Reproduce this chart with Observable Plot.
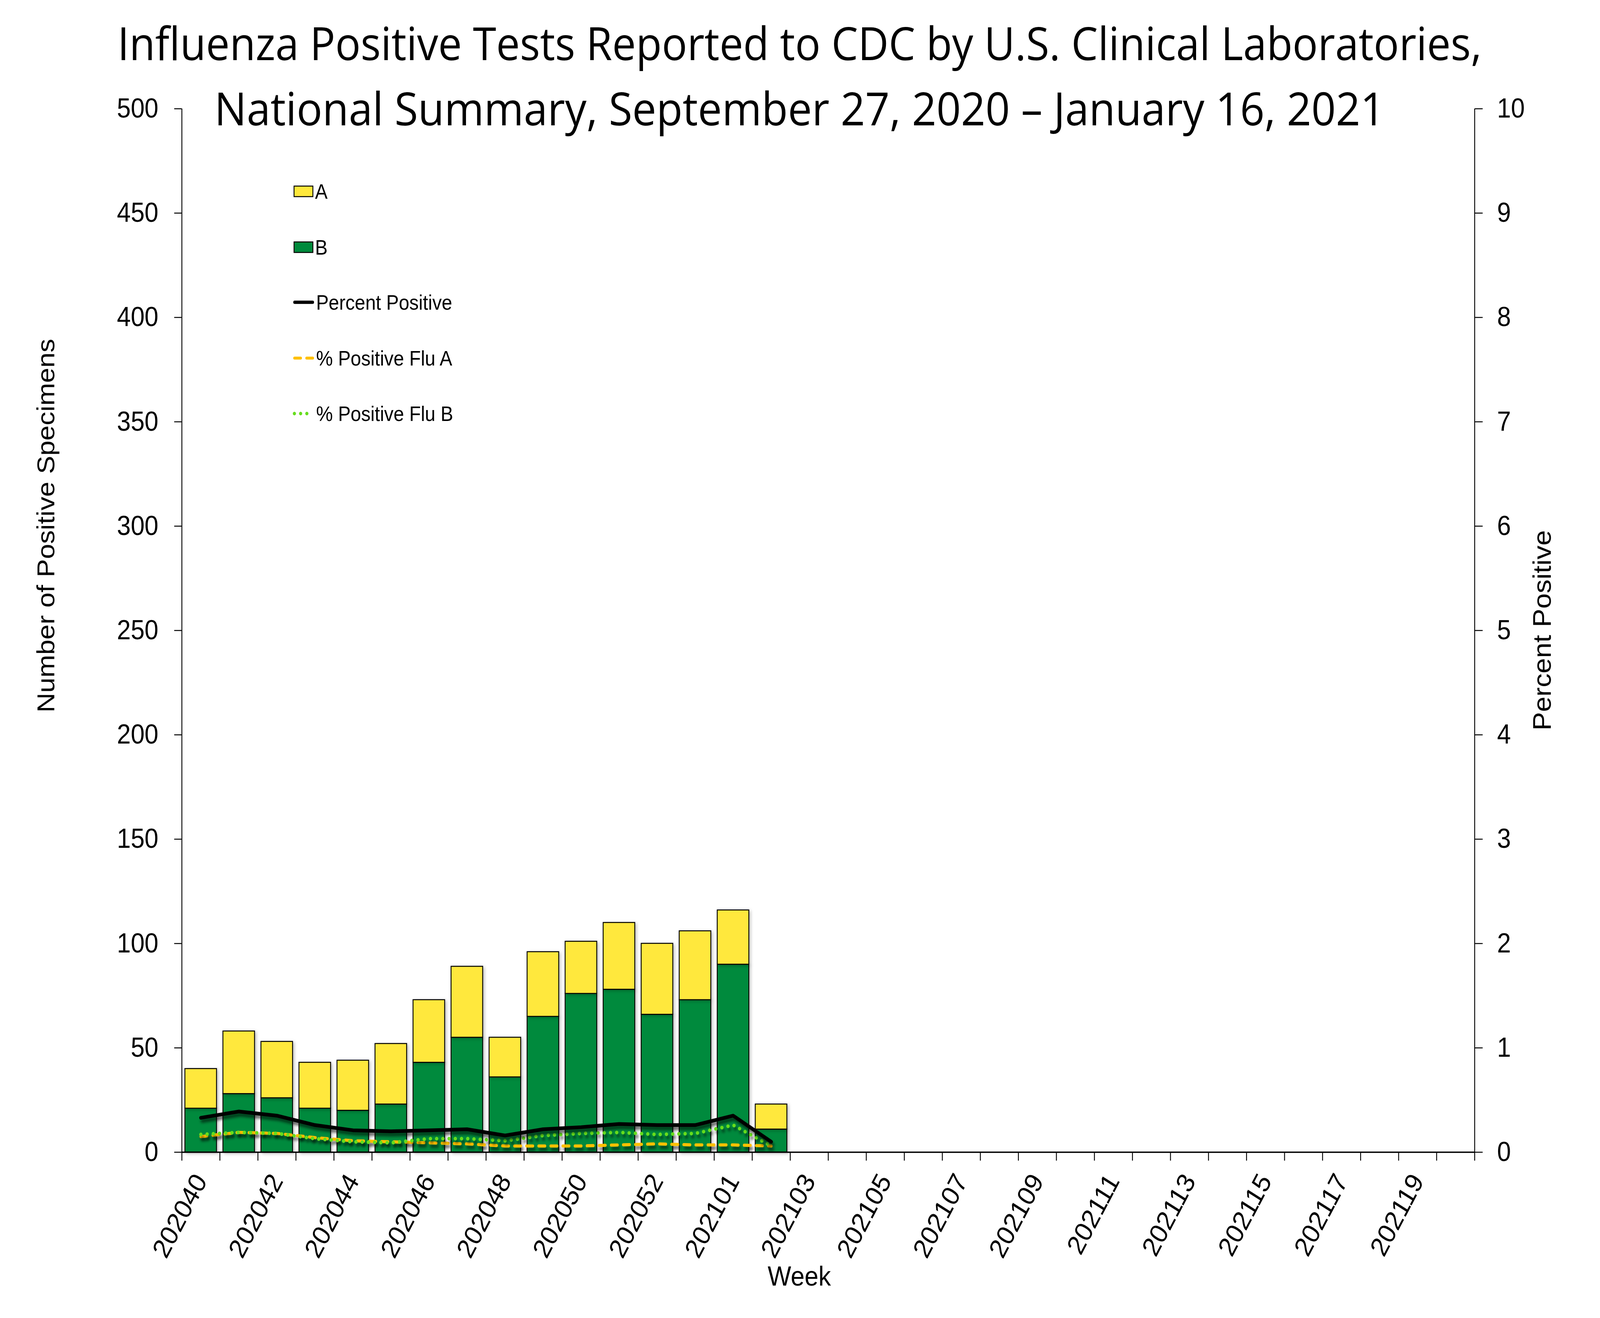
<!DOCTYPE html>
<html><head><meta charset="utf-8">
<script src="https://cdn.jsdelivr.net/npm/d3@7"></script>
<script src="https://cdn.jsdelivr.net/npm/@observablehq/plot@0.6"></script>
<style>
html,body{margin:0;padding:0;background:#fff;overflow:hidden;}
#outer{position:relative;overflow:hidden;background:#fff;width:4500px;height:3375px;}
#wrap{position:absolute;left:0;top:0;width:4500px;height:3375px;overflow:hidden;background:#fff;transform-origin:0 0;}
#overlay{position:absolute;left:0;top:0;pointer-events:none;}
</style></head><body>
<div id="outer"><div id="wrap"></div></div>
<script>
// ---- data ----
const weeks = ["202040","202041","202042","202043","202044","202045","202046","202047","202048","202049","202050","202051","202052","202053",
  "202101","202102","202103","202104","202105","202106","202107","202108","202109","202110","202111","202112","202113","202114","202115","202116","202117","202118","202119","202120"];
const fluB = [21,28,26,21,20,23,43,55,36,65,76,78,66,73,90,11];
const fluA = [19,30,27,22,24,29,30,34,19,31,25,32,34,33,26,12];
const pctPositive = [0.33,0.39,0.35,0.26,0.21,0.20,0.21,0.22,0.16,0.22,0.24,0.27,0.26,0.26,0.35,0.10];
const pctFluA = [0.15,0.19,0.18,0.14,0.11,0.10,0.09,0.08,0.06,0.06,0.06,0.07,0.08,0.07,0.07,0.06];
const pctFluB = [0.17,0.19,0.18,0.13,0.10,0.09,0.13,0.13,0.11,0.16,0.18,0.19,0.17,0.18,0.26,0.06];
const leftTicks = [0,50,100,150,200,250,300,350,400,450,500];
const rightTicks = [0,1,2,3,4,5,6,7,8,9,10];
const titleLines = ["Influenza Positive Tests Reported to CDC by U.S. Clinical Laboratories,",
                    "National Summary, September 27, 2020 \u2013 January 16, 2021"];
const yLeftTitle = "Number of Positive Specimens";
const yRightTitle = "Percent Positive";
const xTitle = "Week";
const legendItems = ["A","B","Percent Positive","% Positive Flu A","% Positive Flu B"];

const COL_A = "#FFE83C", COL_B = "#008A3C", COL_PA = "#FFC000", COL_PB = "#66DD1E";
const PCT = 50; // 1 percent on the right axis equals 50 specimens on the left axis

const rows = fluB.map((b, i) => ({i, b, a: fluA[i], total: b + fluA[i], p: pctPositive[i], pa: pctFluA[i], pb: pctFluB[i]}));
const labelTicks = weeks.map((w, i) => i).filter(i => i % 2 === 0).map(i => i + 0.5);
const boundaryTicks = weeks.map((w, i) => i).concat([weeks.length]);

const chart = Plot.plot({
  width: 4500, height: 3375,
  marginLeft: 511, marginRight: 353, marginTop: 278, marginBottom: 425,
  style: {fontFamily: "'Liberation Sans', Arial, sans-serif", fontSize: "70px", background: "#fff", color: "#000", overflow: "visible"},
  x: {type: "linear", domain: [0, weeks.length], axis: null},
  y: {domain: [0, 500], axis: null},
  marks: [
    Plot.rect(rows, {x1: "i", x2: d => d.i + 1, y1: 0, y2: "b", fill: COL_B, stroke: "#000", strokeWidth: 2.5, insetLeft: 9, insetRight: 9}),
    Plot.rect(rows, {x1: "i", x2: d => d.i + 1, y1: "b", y2: "total", fill: COL_A, stroke: "#000", strokeWidth: 2.5, insetLeft: 9, insetRight: 9}),
    Plot.line(rows, {x: d => d.i + 0.5, y: d => d.pa * PCT, stroke: COL_PA, strokeWidth: 8, strokeDasharray: "17,17", strokeLinecap: "round", strokeLinejoin: "round"}),
    Plot.line(rows, {x: d => d.i + 0.5, y: d => d.pb * PCT, stroke: COL_PB, strokeWidth: 9.5, strokeDasharray: "0,17.5", strokeLinecap: "round", strokeLinejoin: "round"}),
    Plot.line(rows, {x: d => d.i + 0.5, y: d => d.p * PCT, stroke: "#000", strokeWidth: 9.5, strokeLinecap: "round", strokeLinejoin: "round"}),
    Plot.ruleX([0, weeks.length], {stroke: "#000", strokeWidth: 2.5}),
    Plot.ruleY([0], {stroke: "#000", strokeWidth: 3.5}),
    Plot.axisY({anchor: "left", ticks: leftTicks, tickSize: 21, tickPadding: 45, fontSize: 70, label: null, strokeWidth: 2.5}),
    Plot.axisY({anchor: "right", ticks: rightTicks.map(v => v * PCT), tickFormat: d => String(d / PCT), tickSize: 22, tickPadding: 41, fontSize: 70, label: null, strokeWidth: 2.5}),
    Plot.axisX({ticks: boundaryTicks, tickSize: 22, tickFormat: () => "", label: null, strokeWidth: 2.5}),
    Plot.axisX({ticks: labelTicks, tickFormat: d => weeks[Math.floor(d)], tickSize: 0, tickPadding: 62, tickRotate: -60, fontSize: 70, label: null})
  ]
});

// soft shadows like the original
const svgNS = "http://www.w3.org/2000/svg";
const defs = document.createElementNS(svgNS, "defs");
defs.innerHTML = '<filter id="lsh" x="-10%" y="-50%" width="120%" height="200%"><feDropShadow dx="4" dy="8" stdDeviation="3.5" flood-color="#000" flood-opacity="0.6"/></filter>' +
  '<filter id="bsh" x="-20%" y="-20%" width="140%" height="140%"><feDropShadow dx="4" dy="3" stdDeviation="4" flood-color="#000" flood-opacity="0.25"/></filter>';
chart.insertBefore(defs, chart.firstChild);
chart.querySelectorAll('g[aria-label="line"]').forEach(g => g.setAttribute("filter", "url(#lsh)"));
chart.querySelectorAll('g[aria-label="rect"]').forEach(g => g.setAttribute("filter", "url(#bsh)"));

const outer = document.getElementById("outer");
const wrap = document.getElementById("wrap");
wrap.appendChild(chart);

// overlay: title, axis titles, legend
const ov = document.createElementNS(svgNS, "svg");
ov.setAttribute("id", "overlay");
ov.setAttribute("width", 4500); ov.setAttribute("height", 3375);
ov.setAttribute("viewBox", "0 0 4500 3375");
function el(tag, attrs, text) {
  const e = document.createElementNS(svgNS, tag);
  for (const k in attrs) e.setAttribute(k, attrs[k]);
  if (text !== undefined) e.textContent = text;
  ov.appendChild(e);
  return e;
}
const titleFont = "'Open Sans', 'Noto Sans', sans-serif";
el("text", {x: 2249, y: 154, "text-anchor": "middle", "font-family": titleFont, "font-size": 118, textLength: 3837, lengthAdjust: "spacingAndGlyphs", fill: "#000"}, titleLines[0]);
el("text", {x: 2249, y: 321, "text-anchor": "middle", "font-family": titleFont, "font-size": 118, textLength: 3292, lengthAdjust: "spacingAndGlyphs", fill: "#000"}, titleLines[1]);
const axFont = "'Liberation Sans', Arial, sans-serif";
el("text", {transform: "translate(153,1346) rotate(-90)", "text-anchor": "middle", "font-family": axFont, "font-size": 70, fill: "#000"}, yLeftTitle);
el("text", {transform: "translate(4362,1614) rotate(-90)", "text-anchor": "middle", "font-family": axFont, "font-size": 71, fill: "#000"}, yRightTitle);
el("text", {x: 2248, y: 3292, "text-anchor": "middle", "font-family": axFont, "font-size": 70, fill: "#000"}, xTitle);

// legend
const ly = [490, 633, 774, 917, 1059];
el("rect", {x: 827, y: ly[0] - 13.5, width: 53, height: 27, fill: COL_A, stroke: "#000", "stroke-width": 2.5});
el("rect", {x: 827, y: ly[1] - 13.5, width: 53, height: 27, fill: COL_B, stroke: "#000", "stroke-width": 2.5});
el("line", {x1: 829, x2: 879, y1: ly[2], y2: ly[2], stroke: "#000", "stroke-width": 8.5, "stroke-linecap": "round"});
el("line", {x1: 828.5, x2: 880.5, y1: ly[3], y2: ly[3], stroke: COL_PA, "stroke-width": 7.5, "stroke-linecap": "round", "stroke-dasharray": "17,17"});
el("line", {x1: 828, x2: 864, y1: ly[4], y2: ly[4], stroke: COL_PB, "stroke-width": 9, "stroke-linecap": "round", "stroke-dasharray": "0,17.5"});
legendItems.forEach((t, k) => {
  el("text", {x: k < 2 ? 886 : 889, y: ly[k] + 19, "font-family": axFont, "font-size": 53, fill: "#000"}, t);
});
wrap.appendChild(ov);

// the browser viewport may be narrower than 4500px: map the 4500x3375 page onto the whole viewport
function fit() {
  const vw = document.documentElement.clientWidth || window.innerWidth || 4500;
  const vh = document.documentElement.clientHeight || window.innerHeight || 3375;
  let sx = vw / 4500, sy = vh / 3375;
  if (!(sx > 0)) sx = 1;
  if (!(sy > 0)) sy = 1;
  wrap.style.transform = (Math.abs(sx - 1) < 0.001 && Math.abs(sy - 1) < 0.001) ? "" : `scale(${sx}, ${sy})`;
  outer.style.width = (4500 * sx) + "px";
  outer.style.height = (3375 * sy) + "px";
}
fit();
window.addEventListener("resize", fit);
</script>
</body></html>
